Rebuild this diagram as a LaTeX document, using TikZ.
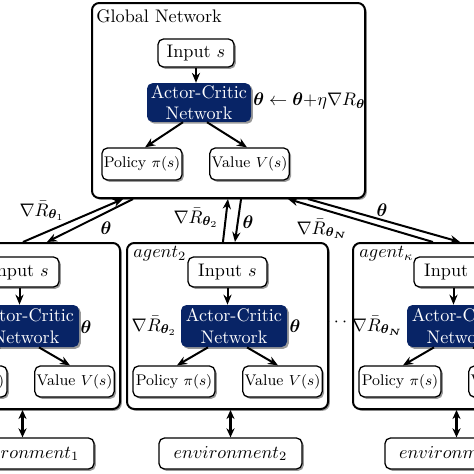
\documentclass[tikz,border=0pt]{standalone}
\usepackage{amsmath,amssymb,bm}
\usetikzlibrary{arrows.meta,shadows,calc}
\definecolor{navyac}{RGB}{8,36,102}
\newcommand\pxu{0.55pt}
\tikzset{
  shad/.style={drop shadow={shadow xshift=1pt,shadow yshift=-1pt,fill=black,opacity=0.4}},
  outerbox/.style={draw,line width=1.1pt,rounded corners=4pt,fill=white,shad},
  smallbox/.style={draw,line width=0.7pt,rounded corners=3pt,fill=white,shad,inner sep=1pt},
  acnbox/.style={fill=navyac,text=white,rounded corners=3pt,align=center,inner sep=1pt,shad},
  pvfont/.style={font=\fontsize{8.5}{10}\selectfont},
  arr/.style={line width=1.1pt,-{Stealth[length=5.5pt,width=4.5pt]}},
  darr/.style={line width=1.2pt,{Stealth[length=5pt,width=4.5pt]}-{Stealth[length=5pt,width=4.5pt]}},
  lbl/.style={inner sep=0pt},
}
\newcommand\agentunit[3]{%
\begin{scope}[shift={(#2,0)},name prefix=#1-]
  \node[outerbox,minimum width=201*\pxu,minimum height=166*\pxu] (box) at (227.5,326) {};
  \node[smallbox,minimum width=79*\pxu,minimum height=30*\pxu] (inp) at (227.5,272) {Input $s$};
  \node[acnbox,minimum width=106*\pxu,minimum height=42*\pxu] (acn) at (234,326) {Actor-Critic\\Network};
  \node[smallbox,pvfont,minimum width=82*\pxu,minimum height=31*\pxu] (pol) at (174,381.5) {Policy $\pi(s)$};
  \node[smallbox,pvfont,minimum width=79*\pxu,minimum height=31*\pxu] (val) at (282.5,381.5) {Value $V(s)$};
  \node[smallbox,minimum width=143*\pxu,minimum height=31*\pxu] (env) at (230.5,453.5) {$environment_{#3}$};
  \draw[arr] (inp.south) -- (inp.south |- acn.north);
  \draw[arr] ([xshift=-14.3pt]acn.south) -- ([xshift=1.65pt]pol.north);
  \draw[arr] ([xshift=7.15pt]acn.south) -- ([xshift=-2.5pt]val.north);
  \draw[darr] (env.north |- box.south) -- (env.north);
\end{scope}}
\begin{document}
\begin{tikzpicture}[x=0.55pt,y=-0.55pt]
\useasboundingbox (0,0) rectangle (474,474);
\clip (0,0) rectangle (474,474);
% global network
\node[outerbox,minimum width=273*\pxu,minimum height=195*\pxu] (g) at (228.5,100.5) {};
\node[lbl,anchor=west] (gtitle) at (96,16) {Global Network};
\node[smallbox,minimum width=76*\pxu,minimum height=28*\pxu] (ginp) at (196,53) {Input $s$};
\node[acnbox,minimum width=104*\pxu,minimum height=33*\pxu] (gacn) at (199,102.5) {Actor-Critic\\Network};
\node[smallbox,pvfont,minimum width=80*\pxu,minimum height=32*\pxu] (gpol) at (142,164) {Policy $\pi(s)$};
\node[smallbox,pvfont,minimum width=77*\pxu,minimum height=32*\pxu] (gval) at (249.5,164) {Value $V(s)$};
\node[lbl,anchor=west] (gform) at (253,101) {$\bm{\theta}\leftarrow\bm{\theta}{+}\eta\nabla R_{\bm{\theta}}$};
\draw[arr] (ginp.south) -- (ginp.south |- gacn.north);
\draw[arr] ([xshift=-8.8pt]gacn.south) -- ([xshift=1.65pt]gpol.north);
\draw[arr] ([xshift=4.4pt]gacn.south) -- ([xshift=-1.4pt]gval.north);
% agents
\agentunit{a1}{-208}{1}
\agentunit{a2}{0}{2}
\agentunit{ak}{226}{\kappa}
\node[lbl,anchor=west] (a2name) at (133,254) {$agent_2$};
\node[lbl,anchor=west] (akname) at (359,254) {$agent_\kappa$};
\node[lbl] (a1theta) at (86,327) {$\bm{\theta}$};
\node[lbl] (a2theta) at (295,326) {$\bm{\theta}$};
\node[lbl,anchor=east] (a2grad) at (177,326) {$\nabla\bar{R}_{\bm{\theta}_2}$};
\node[lbl,anchor=east] (akgrad) at (403,326) {$\nabla\bar{R}_{\bm{\theta}_{\bm{N}}}$};
\node[lbl] (dots) at (338,322) {$\cdots$};
% global <-> agents
\draw[arr] ([xshift=1.9pt]a1-box.north) -- ([xshift=-58pt]g.south);
\draw[arr] ([xshift=-52.5pt]g.south) -- ([xshift=15.1pt]a1-box.north);
\draw[arr] ([xshift=-2.5pt]a2-box.north) -- ([xshift=-0.3pt]g.south);
\draw[arr] ([xshift=6.9pt]g.south) -- ([xshift=4.1pt]a2-box.north);
\draw[arr] ([xshift=-11.3pt]ak-box.north) -- ([xshift=32.7pt]g.south);
\draw[arr] ([xshift=43.7pt]g.south) -- ([xshift=3.6pt]ak-box.north);
\node[lbl] (l1grad) at (42,211) {$\nabla\bar{R}_{\bm{\theta}_1}$};
\node[lbl] (l1theta) at (106,228) {$\bm{\theta}$};
\node[lbl] (l2grad) at (196,218) {$\nabla\bar{R}_{\bm{\theta}_2}$};
\node[lbl] (l2theta) at (248,222) {$\bm{\theta}$};
\node[lbl] (lkgrad) at (322,229) {$\nabla\bar{R}_{\bm{\theta}_{\bm{N}}}$};
\node[lbl] (lktheta) at (382,210) {$\bm{\theta}$};
\end{tikzpicture}
\end{document}
